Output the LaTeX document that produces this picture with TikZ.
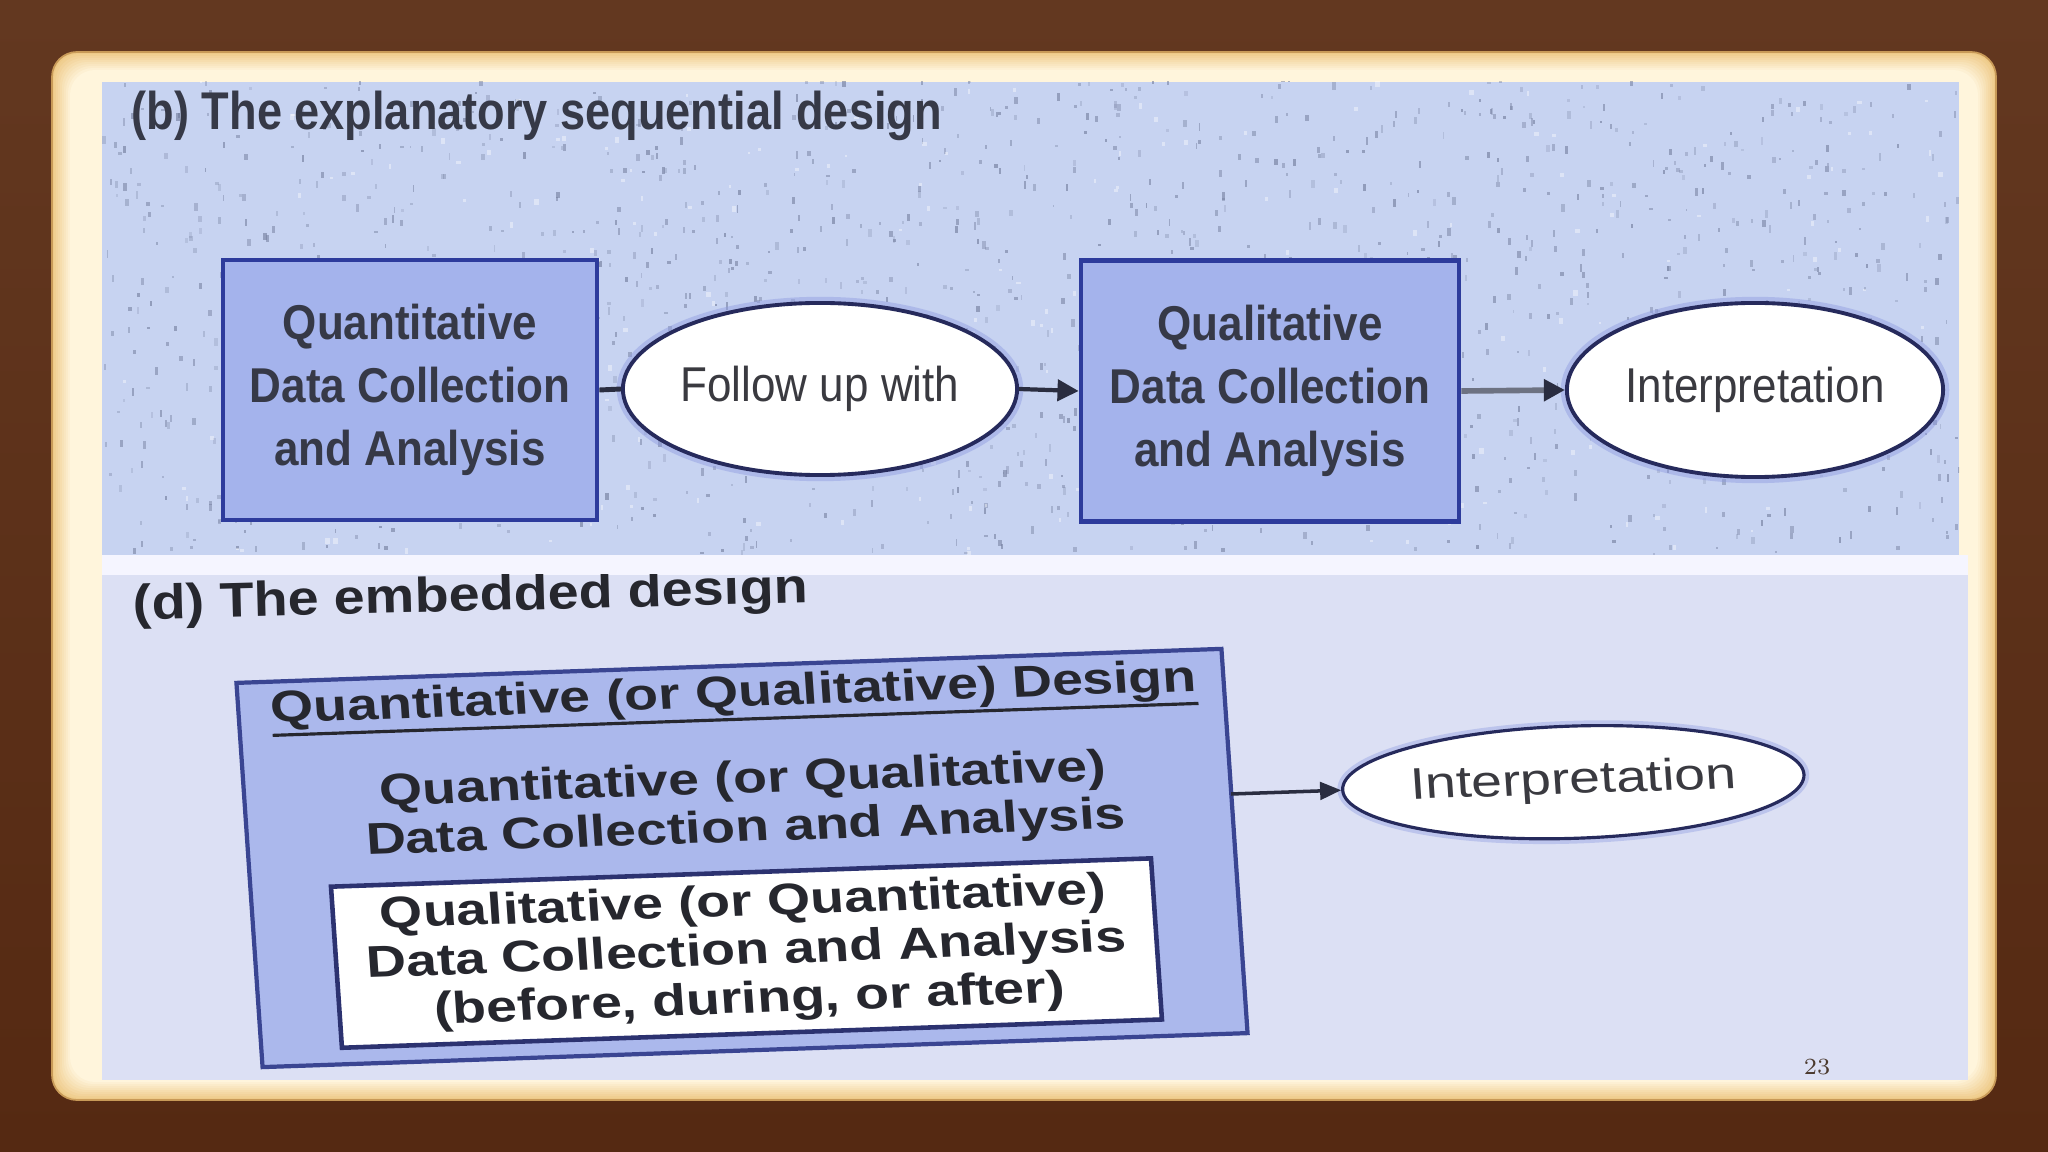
\documentclass[tikz,border=0pt]{standalone}
\usepackage{fontspec}
\usetikzlibrary{shapes.geometric,arrows.meta}
\newfontfamily\titleBfont[FakeStretch=0.85]{Liberation Sans}
\newfontfamily\boxBfont[FakeStretch=0.9]{Liberation Sans}
\newfontfamily\embfont[FakeStretch=1.25]{Liberation Sans}
\newfontfamily\embtitlefont[FakeStretch=1.14]{Liberation Sans}
\definecolor{bgtop}{HTML}{633820}
\definecolor{bgbot}{HTML}{552912}
\definecolor{cardA}{HTML}{EECA88}
\definecolor{cardE}{HTML}{FFF5DD}
\definecolor{cardedge}{HTML}{C89A58}
\definecolor{toppanel}{HTML}{C7D3F1}
\definecolor{speck}{HTML}{747E9E}
\definecolor{boxfill}{HTML}{A4B3EC}
\definecolor{boxedge}{HTML}{2D3B9C}
\definecolor{elledge}{HTML}{262A5C}
\definecolor{glowc}{HTML}{8E9BE0}
\definecolor{toptext}{HTML}{363947}
\definecolor{elltext}{HTML}{3A3A40}
\definecolor{lnc}{HTML}{2A2D40}
\definecolor{shaftgray}{HTML}{6D7282}
\definecolor{botpanel}{HTML}{DCE0F4}
\definecolor{outerfill}{HTML}{ABB8EC}
\definecolor{outeredge}{HTML}{3A4592}
\definecolor{inneredge}{HTML}{2C3270}
\definecolor{embtext}{HTML}{26272E}
\definecolor{pagenum}{HTML}{4B3A2E}
\newcommand\myul[1]{\setbox0\hbox{#1}\rlap{\rule[-4pt]{\wd0}{0.9pt}}\box0}
\begin{document}
\begin{tikzpicture}[x=0.01cm,y=0.01cm,
  topbox/.style={draw=boxedge, line width=1.3pt, fill=boxfill, text=toptext, align=center,
    font=\boxBfont\bfseries\fontsize{13.9}{17.9}\selectfont, inner sep=0pt},
  topell/.style={ellipse, draw=elledge, line width=1.1pt, fill=white, text=elltext,
    font=\boxBfont\fontsize{13.9}{16}\selectfont, inner sep=0pt,
    preaction={draw=glowc, line width=3.5pt, opacity=0.45}},
  plainline/.style={draw=lnc, line width=1.4pt},
  arrT/.style={draw=lnc, line width=1.2pt, -{Triangle[length=6pt,width=6pt]}},
  arrG/.style={draw=shaftgray, line width=1.6pt, -{Triangle[length=6pt,width=6pt,color=lnc]}},
  embtext/.style={text=embtext, align=center, font=\embfont\bfseries\fontsize{12.6}{13.8}\selectfont, inner sep=0pt},
  outerbox/.style={draw=outeredge, line width=1.2pt, fill=outerfill, inner sep=0pt,
    minimum width=9.85cm, minimum height=3.84cm},
  innerbox/.style={draw=inneredge, line width=1.3pt, fill=white, inner sep=0pt, text=embtext, align=center,
    font=\embfont\bfseries\fontsize{12.6}{13.8}\selectfont, minimum width=8.2cm, minimum height=1.61cm},
  ellB/.style={ellipse, draw=elledge, line width=0.9pt, fill=white, text=elltext, inner sep=0pt,
    font=\embfont\fontsize{12.6}{14}\selectfont, minimum width=3.95cm, minimum height=1.12cm,
    preaction={draw=glowc, line width=3pt, opacity=0.4}},
  arrB/.style={draw=lnc, line width=1pt, -{Triangle[length=6pt,width=5pt]}}
]
% background
\fill[top color=bgtop,bottom color=bgbot] (0,0) rectangle (2048,-1152);
\useasboundingbox (0,0) rectangle (2048,-1152);
% card with soft glow
\foreach \i in {0,...,9}{
  \pgfmathsetmacro\pc{\i*11}
  \fill[cardE!\pc!cardA, rounded corners=0.25cm] (52+2*\i,-52-2*\i) rectangle (1996-2*\i,-1100+2*\i);
}
\draw[cardedge, line width=0.5pt, rounded corners=0.25cm] (52,-52) rectangle (1996,-1100);
% panels
\fill[toppanel] (102,-82) rectangle (1959,-555);
\fill[white!96!blue] (102,-555) rectangle (1968,-575);
\fill[botpanel] (102,-575) rectangle (1968,-1080);
% speckle texture of the top panel
\begin{scope}
\clip (102,-82) rectangle (1959,-555);
\pgfmathsetseed{7}
\foreach \i in {1,...,1500}{
  \pgfmathsetmacro\sx{102+1857*rnd}
  \pgfmathsetmacro\sy{-82-473*rnd}
  \pgfmathsetmacro\sw{1.5+2.5*rnd}
  \pgfmathsetmacro\sh{2+6*rnd}
  \pgfmathsetmacro\so{0.2+0.45*rnd}
  \fill[speck, fill opacity=\so] (\sx,\sy) rectangle ++(\sw,\sh);
}
\foreach \i in {1,...,250}{
  \pgfmathsetmacro\sx{102+1857*rnd}
  \pgfmathsetmacro\sy{-82-473*rnd}
  \pgfmathsetmacro\sw{2+3*rnd}
  \pgfmathsetmacro\sh{2+4*rnd}
  \fill[white, fill opacity=0.4] (\sx,\sy) rectangle ++(\sw,\sh);
}
\end{scope}
% top diagram
\node[anchor=base west, inner sep=0pt, text=toptext, font=\titleBfont\bfseries\fontsize{15.1}{18}\selectfont] (ttlb) at (131,-130) {(b) The explanatory sequential design};
\node[topbox, minimum width=3.74cm, minimum height=2.60cm] (box1) at (410,-390) {Quantitative\\Data Collection\\and Analysis};
\node[topell, minimum width=3.74cm, minimum height=1.72cm] (ell1) at (820,-389) {Follow up with};
\node[topbox, minimum width=3.78cm, minimum height=2.61cm] (box2) at (1270,-391) {Qualitative\\Data Collection\\and Analysis};
\node[topell, minimum width=3.76cm, minimum height=1.74cm] (ell2) at (1755,-390) {Interpretation};
\draw[plainline] (box1.east) -- (ell1.west);
\draw[arrT] (ell1.east) -- (box2.west);
\draw[arrG] (box2.east) -- (ell2.west);
% bottom diagram
\begin{scope}
\clip (102,-575) rectangle (1968,-1080);
\node[anchor=base west, inner sep=0pt, rotate=1.5, text=embtext, font=\embtitlefont\bfseries\fontsize{13.9}{16}\selectfont] (ttld) at (133,-620) {(d) The embedded design};
\end{scope}
\begin{scope}[shift={(742,-858)}, cm={0.9994,0.0345,-0.068,1,(0,0)}, transform shape]
  \node[outerbox] (outer) at (0,0) {};
  \node[embtext] (head) at (3,160) {\myul{Quantitative (or Qualitative) Design}};
  \node[embtext] (quan) at (6,52) {Quantitative (or Qualitative)\\Data Collection and Analysis};
  \node[innerbox] (inner) at (-2,-95) {Qualitative (or Quantitative)\\Data Collection and Analysis\\(before, during, or after)};
  \node[ellB] (ellb) at (835,47) {Interpretation};
  \coordinate (astart) at (492.5,47);
  \draw[arrB] (astart) -- (ellb.west);
\end{scope}
% page number
\node[inner sep=0pt, text=pagenum, font=\fontsize{6.6}{7}\selectfont] (pg) at (1817,-1067) {\oldstylenums{23}};
\end{tikzpicture}
\end{document}
